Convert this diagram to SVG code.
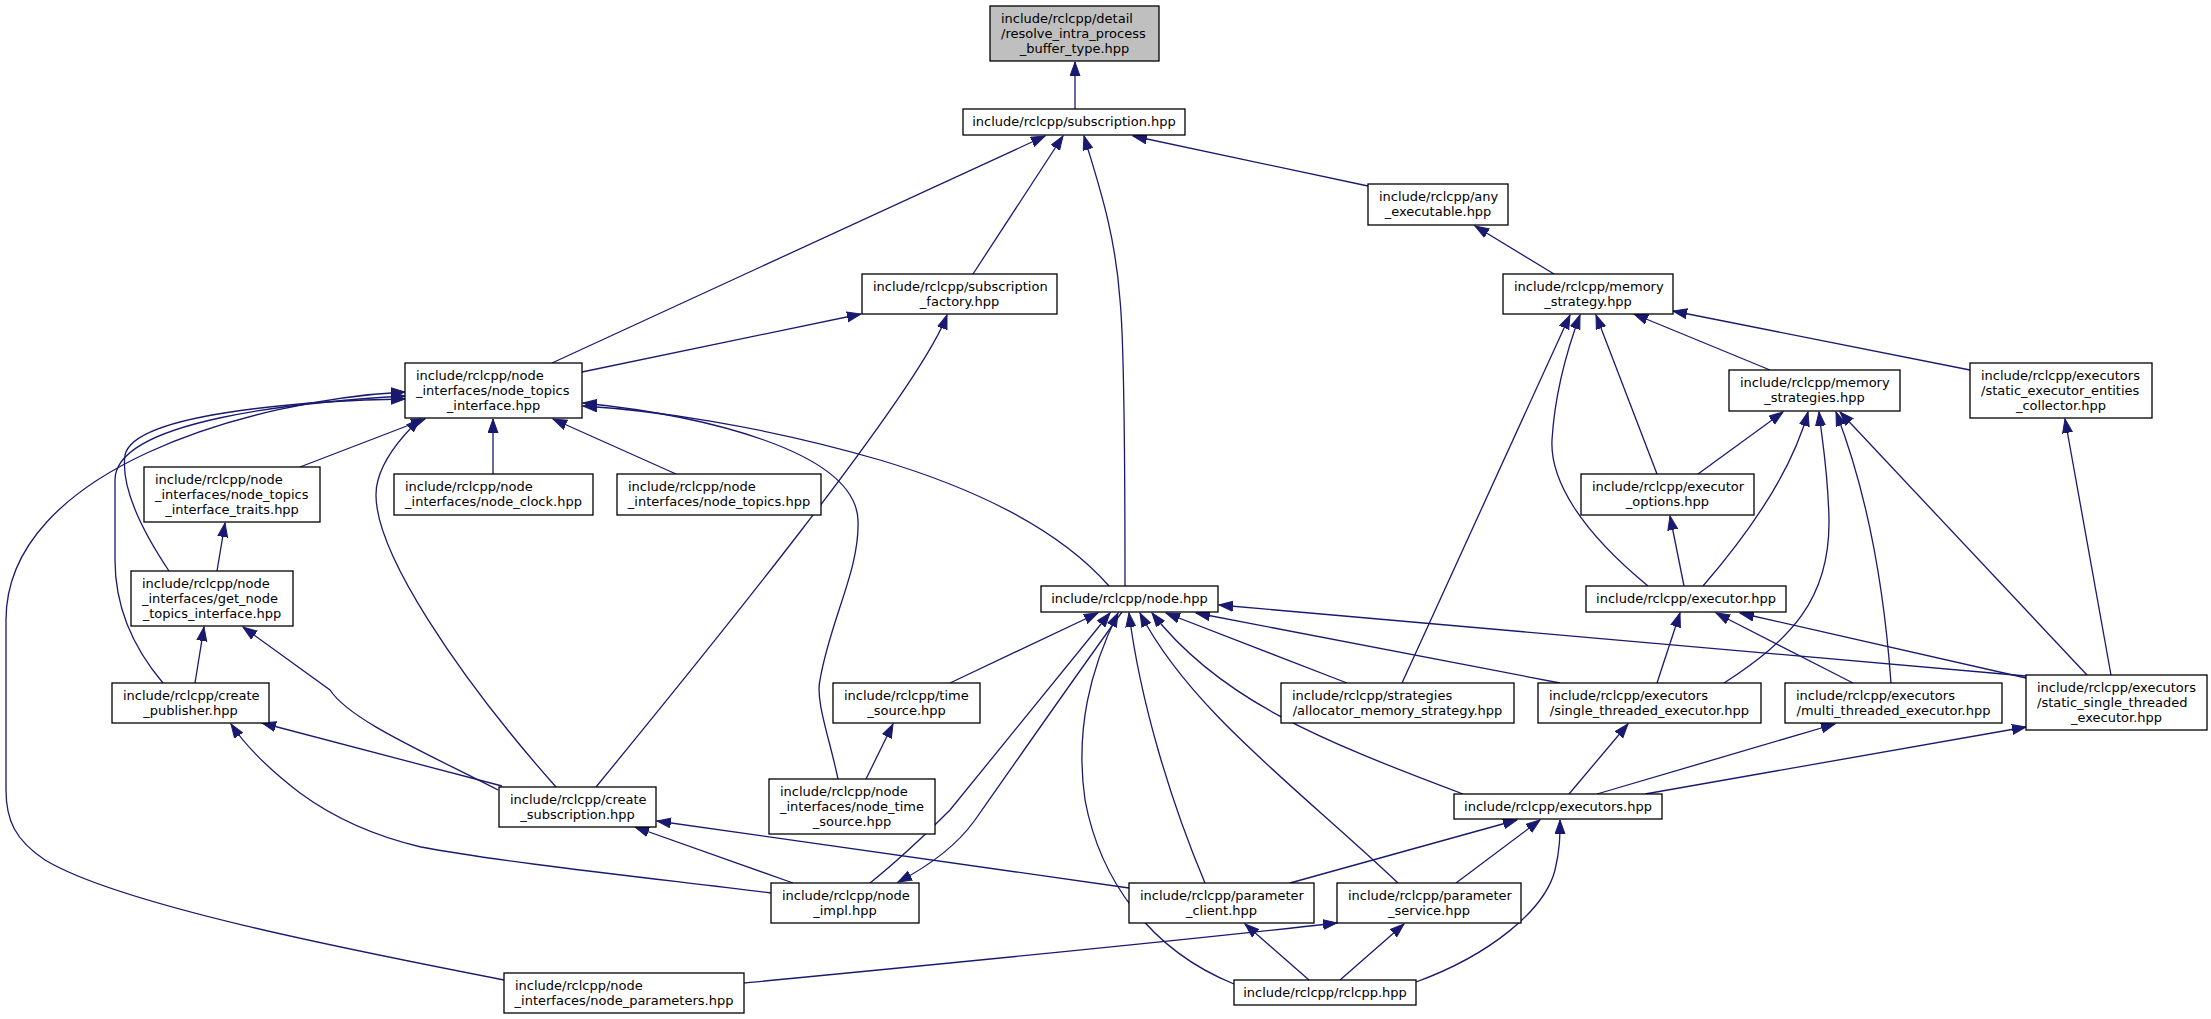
<svg xmlns="http://www.w3.org/2000/svg" width="2211" height="1019" viewBox="0 0 2211 1019">
<style>
.n rect{fill:#fff;stroke:#000;stroke-width:1.3}
.n.root rect{fill:#bfbfbf}
.n text{font-family:"DejaVu Sans","Liberation Sans",sans-serif;font-size:13px;fill:#000}
.n text.c{text-anchor:middle}
#edges path{fill:none;stroke:#191970;stroke-width:1.3;marker-end:url(#ah)}
</style>
<defs>
<marker id="ah" markerUnits="userSpaceOnUse" markerWidth="16" markerHeight="12" refX="14" refY="5.5" orient="auto">
<path d="M0,0.5 L14,5.5 L0,10.5 z" fill="#191970" stroke="#191970" stroke-width="1"/>
</marker>
</defs>
<rect width="2211" height="1019" fill="#fff"/>
<g id="edges">
<path d="M1075,109 L1075,62"/>
<path d="M552,363 L1045,136"/>
<path d="M973,274 L1063,136"/>
<path d="M1125,586 C1125,450 1124,340 1120,300 C1115,230 1097,180 1084,136"/>
<path d="M1368,186 L1133,136"/>
<path d="M1554,274 L1475,226"/>
<path d="M582,372 L861,314"/>
<path d="M596,787 C700,660 920,390 947,315"/>
<path d="M1770,370 L1634,314"/>
<path d="M1970,370 L1673,311"/>
<path d="M1657,474 L1596,315"/>
<path d="M1648,586 C1580,530 1550,480 1552,440 C1555,390 1567,350 1580,315"/>
<path d="M1402,683 L1570,315"/>
<path d="M300,467 L425,419"/>
<path d="M493,474 L493,419"/>
<path d="M676,474 L553,419"/>
<path d="M169,571 C145,535 120,490 125,455 C135,410 330,400 405,399"/>
<path d="M163,683 C135,650 115,610 115,560 L115,480 C115,420 300,402 405,396"/>
<path d="M504,980 C350,950 120,905 45,860 C15,840 6,820 6,790 L6,620 C6,470 250,400 405,392"/>
<path d="M556,787 C470,690 360,540 378,480 C384,458 400,438 420,419"/>
<path d="M838,779 C830,740 815,700 820,680 C830,620 860,570 858,520 C855,450 700,415 583,403"/>
<path d="M1109,586 C1060,530 980,490 880,460 C760,425 650,410 583,406"/>
<path d="M217,571 L225,523"/>
<path d="M195,683 L204,627"/>
<path d="M498,790 C420,750 350,720 330,690 L243,627"/>
<path d="M502,786 L262,723"/>
<path d="M771,893 C650,878 500,862 421,847 C370,835 330,815 300,793 C270,770 245,745 231,724"/>
<path d="M793,883 L635,827"/>
<path d="M1129,888 L657,821"/>
<path d="M866,779 L893,724"/>
<path d="M950,683 L1098,613"/>
<path d="M870,883 C905,855 930,830 950,810 L1110,613"/>
<path d="M1122,612 C1080,670 1010,770 975,820 C955,848 925,868 898,882"/>
<path d="M1234,984 C1150,950 1100,880 1085,800 C1075,730 1090,670 1118,613"/>
<path d="M1205,883 C1170,800 1140,700 1129,613"/>
<path d="M1398,883 C1300,790 1190,710 1140,613"/>
<path d="M1463,794 C1320,740 1220,700 1152,613"/>
<path d="M1347,683 L1166,613"/>
<path d="M1560,683 L1196,613"/>
<path d="M2026,676 L1219,605"/>
<path d="M1657,683 L1680,613"/>
<path d="M1853,683 L1716,613"/>
<path d="M2026,678 L1740,613"/>
<path d="M1684,586 L1670,516"/>
<path d="M1703,586 C1760,520 1795,460 1808,412"/>
<path d="M1724,683 C1790,640 1830,600 1829,520 C1828,470 1822,440 1819,412"/>
<path d="M1891,683 C1885,600 1870,500 1836,412"/>
<path d="M2087,675 L1840,412"/>
<path d="M1698,474 L1783,412"/>
<path d="M2111,675 L2065,419"/>
<path d="M1569,794 L1628,724"/>
<path d="M1597,794 L1835,724"/>
<path d="M1645,794 L2026,727"/>
<path d="M1290,883 L1517,820"/>
<path d="M1456,883 L1540,820"/>
<path d="M1416,982 C1490,955 1545,910 1555,870 C1560,850 1560,835 1560,820"/>
<path d="M1309,980 L1245,924"/>
<path d="M1340,980 L1404,924"/>
<path d="M744,983 C900,968 1150,944 1337,923"/>
</g>
<g id="n0" class="n root"><rect x="990" y="6" width="169" height="55"/><text x="1001" y="22.5">include/rclcpp/detail</text><text x="1001" y="37.5">/resolve_intra_process</text><text class="c" x="1074.5" y="52.5">_buffer_type.hpp</text></g>
<g id="n1" class="n"><rect x="963" y="109" width="222" height="26"/><text class="c" x="1074" y="126">include/rclcpp/subscription.hpp</text></g>
<g id="n2" class="n"><rect x="1368" y="184" width="140" height="41"/><text x="1379" y="201">include/rclcpp/any</text><text class="c" x="1438" y="216">_executable.hpp</text></g>
<g id="n3" class="n"><rect x="862" y="274" width="195" height="40"/><text x="873" y="290.5">include/rclcpp/subscription</text><text class="c" x="959.5" y="305.5">_factory.hpp</text></g>
<g id="n4" class="n"><rect x="1503" y="274" width="170" height="40"/><text x="1514" y="290.5">include/rclcpp/memory</text><text class="c" x="1588" y="305.5">_strategy.hpp</text></g>
<g id="n5" class="n"><rect x="405" y="363" width="177" height="55"/><text x="416" y="379.5">include/rclcpp/node</text><text x="416" y="394.5">_interfaces/node_topics</text><text class="c" x="493.5" y="409.5">_interface.hpp</text></g>
<g id="n6" class="n"><rect x="1729" y="370" width="171" height="41"/><text x="1740" y="387">include/rclcpp/memory</text><text class="c" x="1814.5" y="402">_strategies.hpp</text></g>
<g id="n7" class="n"><rect x="1970" y="363" width="182" height="55"/><text x="1981" y="379.5">include/rclcpp/executors</text><text x="1981" y="394.5">/static_executor_entities</text><text class="c" x="2061" y="409.5">_collector.hpp</text></g>
<g id="n8" class="n"><rect x="144" y="467" width="176" height="55"/><text x="155" y="483.5">include/rclcpp/node</text><text x="155" y="498.5">_interfaces/node_topics</text><text class="c" x="232" y="513.5">_interface_traits.hpp</text></g>
<g id="n9" class="n"><rect x="394" y="474" width="199" height="41"/><text x="405" y="491">include/rclcpp/node</text><text class="c" x="493.5" y="506">_interfaces/node_clock.hpp</text></g>
<g id="n10" class="n"><rect x="617" y="474" width="204" height="41"/><text x="628" y="491">include/rclcpp/node</text><text class="c" x="719" y="506">_interfaces/node_topics.hpp</text></g>
<g id="n11" class="n"><rect x="1581" y="474" width="173" height="41"/><text x="1592" y="491">include/rclcpp/executor</text><text class="c" x="1667.5" y="506">_options.hpp</text></g>
<g id="n12" class="n"><rect x="131" y="571" width="162" height="55"/><text x="142" y="587.5">include/rclcpp/node</text><text x="142" y="602.5">_interfaces/get_node</text><text class="c" x="212" y="617.5">_topics_interface.hpp</text></g>
<g id="n13" class="n"><rect x="1041" y="586" width="177" height="26"/><text class="c" x="1129.5" y="603">include/rclcpp/node.hpp</text></g>
<g id="n14" class="n"><rect x="1586" y="586" width="200" height="26"/><text class="c" x="1686" y="603">include/rclcpp/executor.hpp</text></g>
<g id="n15" class="n"><rect x="112" y="683" width="157" height="40"/><text x="123" y="699.5">include/rclcpp/create</text><text class="c" x="190.5" y="714.5">_publisher.hpp</text></g>
<g id="n16" class="n"><rect x="833" y="683" width="147" height="40"/><text x="844" y="699.5">include/rclcpp/time</text><text class="c" x="906.5" y="714.5">_source.hpp</text></g>
<g id="n17" class="n"><rect x="1281" y="683" width="233" height="40"/><text x="1292" y="699.5">include/rclcpp/strategies</text><text class="c" x="1397.5" y="714.5">/allocator_memory_strategy.hpp</text></g>
<g id="n18" class="n"><rect x="1538" y="683" width="223" height="40"/><text x="1549" y="699.5">include/rclcpp/executors</text><text class="c" x="1649.5" y="714.5">/single_threaded_executor.hpp</text></g>
<g id="n19" class="n"><rect x="1785" y="683" width="217" height="40"/><text x="1796" y="699.5">include/rclcpp/executors</text><text class="c" x="1893.5" y="714.5">/multi_threaded_executor.hpp</text></g>
<g id="n20" class="n"><rect x="2026" y="675" width="181" height="55"/><text x="2037" y="691.5">include/rclcpp/executors</text><text x="2037" y="706.5">/static_single_threaded</text><text class="c" x="2116.5" y="721.5">_executor.hpp</text></g>
<g id="n21" class="n"><rect x="499" y="787" width="157" height="40"/><text x="510" y="803.5">include/rclcpp/create</text><text class="c" x="577.5" y="818.5">_subscription.hpp</text></g>
<g id="n22" class="n"><rect x="769" y="779" width="166" height="55"/><text x="780" y="795.5">include/rclcpp/node</text><text x="780" y="810.5">_interfaces/node_time</text><text class="c" x="852" y="825.5">_source.hpp</text></g>
<g id="n23" class="n"><rect x="1454" y="794" width="208" height="25"/><text class="c" x="1558" y="810.5">include/rclcpp/executors.hpp</text></g>
<g id="n24" class="n"><rect x="771" y="883" width="148" height="40"/><text x="782" y="899.5">include/rclcpp/node</text><text class="c" x="845" y="914.5">_impl.hpp</text></g>
<g id="n25" class="n"><rect x="1129" y="883" width="185" height="40"/><text x="1140" y="899.5">include/rclcpp/parameter</text><text class="c" x="1221.5" y="914.5">_client.hpp</text></g>
<g id="n26" class="n"><rect x="1337" y="883" width="184" height="40"/><text x="1348" y="899.5">include/rclcpp/parameter</text><text class="c" x="1429" y="914.5">_service.hpp</text></g>
<g id="n27" class="n"><rect x="504" y="973" width="240" height="40"/><text x="515" y="989.5">include/rclcpp/node</text><text class="c" x="624" y="1004.5">_interfaces/node_parameters.hpp</text></g>
<g id="n28" class="n"><rect x="1234" y="980" width="182" height="25"/><text class="c" x="1325" y="996.5">include/rclcpp/rclcpp.hpp</text></g>
</svg>
